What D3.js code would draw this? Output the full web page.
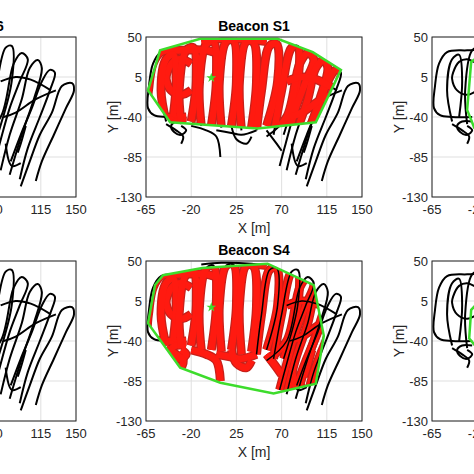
<!DOCTYPE html>
<html><head><meta charset="utf-8">
<script src="https://cdn.jsdelivr.net/npm/d3@7"></script>
<style>body{margin:0;background:#fff}svg{display:block}</style>
</head><body>
<svg id="chart" width="474" height="474"></svg>
<script>
// tick labels
var xTicks = [-65, -20, 25, 70, 115, 150];
var yTicks = [50, 5, -40, -85, -130];

// walked trajectories [x, y] in metres
var tracks = [
  [[-25,-40],[-45,-40],[-57,-38],[-63,-30],[-62,-5],[-58,20],[-50,33],[-30,35],[-5,35],[10,30]],
  [[-20,20],[-30,25],[-38,22],[-44,10],[-45,3],[-40,-10],[-30,-15],[-20,-10]],
  [[-25,-45],[-35,-45],[-40,-50],[-37,-57],[-30,-60],[-25,-55],[-30,-50]],
  [[-45,-45],[-50,-10],[-45,25],[-38,30],[-35,0],[-38,-40]],
  [[-30,-48],[-32,-10],[-25,35],[-18,38],[-15,0],[-20,-45]],
  [[-10,-50],[-12,-5],[-5,42],[2,45],[5,0],[0,-50]],
  [[10,-52],[8,0],[15,45],[22,46],[25,0],[20,-50]],
  [[30,-55],[28,0],[35,45],[42,44],[45,0],[40,-52]],
  [[45,-55],[50,-10],[58,40],[65,42],[66,0],[55,-50]],
  [[62,-60],[70,-10],[80,38],[86,40],[86,0],[72,-60]],
  [[55,-62],[75,-40],[88,20],[96,32],[102,25],[94,0],[84,-30],[74,-70],[68,-95]],
  [[75,-100],[84,-60],[96,-20],[104,15],[112,24],[116,15],[108,-20],[96,-60],[84,-105]],
  [[85,-90],[95,-60],[106,-30],[116,0],[124,13],[129,10],[124,-10],[114,-40],[102,-75],[94,-110]],
  [[95,-118],[104,-90],[114,-60],[126,-35],[136,-5],[146,-2],[148,-10],[140,-30],[128,-60],[116,-90],[110,-112]],
  [[78,-40],[90,-35],[110,-20],[130,-10]],
  [[75,0],[90,5],[105,2],[125,-10]],
  [[-45,-48],[-35,-55],[-28,-62],[-30,-70]],
  [[-20,-50],[-5,-55],[5,-62],[9,-85]],
  [[5,-55],[20,-58],[30,-60],[45,-55]],
  [[20,-50],[25,-65],[35,-70],[40,-62]],
  [[55,-55],[65,-70],[70,-78]],
  [[80,-70],[86,-95],[95,-92]],
  [[100,-50],[95,-70],[92,-80]],
  [[-10,46],[10,48],[40,47],[55,45]]
];

// coverage hulls and beacon positions
var hullS1 = [[-63,-10],[-51,35],[-11,48],[66,48],[101,33],[129,13],[104,-46],[46,-53],[-41,-46]];
var hullS4 = [[-63,-20],[-56,23],[-48,34],[-9,42],[56,47],[102,23],[112,-34],[104,-88],[62,-99],[9,-87],[-31,-70]];
var hullS3 = [[-26,22],[-10,35],[20,30],[25,-40],[0,-60],[-23,-52],[-30,-32]];
var hullS6 = [[-26,-5],[-10,15],[20,10],[20,-50],[-20,-48],[-28,-37]];

var panels = [
  {title: "Beacon S6", left: -140, top: 37, hull: null, star: null},
  {title: "Beacon S1", left: 146, top: 37, hull: hullS1, star: [0, 4]},
  {title: "", left: 432, top: 37, hull: hullS3, star: null},
  {title: "", left: -140, top: 261, hull: null, star: null},
  {title: "Beacon S4", left: 146, top: 261, hull: hullS4, star: [0, -2]},
  {title: "", left: 432, top: 261, hull: hullS6, star: null}
];

var W = 216, H = 160;
var svg = d3.select("#chart");
var x = d3.scaleLinear().domain([-65, 150]).range([0, W]);
var y = d3.scaleLinear().domain([-130, 50]).range([H, 0]);
var line = d3.line().x(d => x(d[0])).y(d => y(d[1])).curve(d3.curveCatmullRom);
var font = "Liberation Sans, Arial, sans-serif";

panels.forEach(function (p, i) {
  var g = svg.append("g").attr("transform", "translate(" + p.left + "," + p.top + ")");

  g.append("defs").append("clipPath").attr("id", "box" + i)
    .append("rect").attr("width", W).attr("height", H);

  // grid
  g.selectAll(".gx").data(xTicks).enter().append("line")
    .attr("x1", d => x(d)).attr("x2", d => x(d)).attr("y1", 0).attr("y2", H)
    .attr("stroke", "#dfdfdf").attr("stroke-width", 1);
  g.selectAll(".gy").data(yTicks).enter().append("line")
    .attr("y1", d => y(d)).attr("y2", d => y(d)).attr("x1", 0).attr("x2", W)
    .attr("stroke", "#dfdfdf").attr("stroke-width", 1);

  var plot = g.append("g").attr("clip-path", "url(#box" + i + ")");

  plot.selectAll(".trk").data(tracks).enter().append("path")
    .attr("d", line).attr("fill", "none").attr("stroke", "#000").attr("stroke-width", 2);

  if (p.hull && p.star) {
    plot.append("clipPath").attr("id", "hull" + i)
      .append("polygon").attr("points", p.hull.map(d => [x(d[0]), y(d[1])].join(",")).join(" "));
    var red = plot.append("g").attr("clip-path", "url(#hull" + i + ")");
    red.selectAll(".ro").data(tracks).enter().append("path")
      .attr("d", line).attr("fill", "none").attr("stroke", "#c8201a").attr("stroke-width", 9);
    red.selectAll(".ri").data(tracks).enter().append("path")
      .attr("d", line).attr("fill", "none").attr("stroke", "#ff1a10").attr("stroke-width", 6.5);
    if (i === 4) {
      // black tracks over the red on the right side of S4
      red.selectAll(".bk").data(tracks.slice(8, 16)).enter().append("path")
        .attr("d", line).attr("fill", "none").attr("stroke", "#000").attr("stroke-width", 1.5);
    }
  }
  if (p.hull) {
    plot.append("polygon")
      .attr("points", p.hull.map(d => [x(d[0]), y(d[1])].join(",")).join(" "))
      .attr("fill", "none").attr("stroke", "#3ddc2c").attr("stroke-width", 2.5);
  }
  if (p.star) {
    plot.append("path").attr("d", d3.symbol(d3.symbolStar, 30)())
      .attr("transform", "translate(" + x(p.star[0]) + "," + y(p.star[1]) + ")")
      .attr("fill", "#3ddc2c");
  }

  g.append("rect").attr("width", W).attr("height", H)
    .attr("fill", "none").attr("stroke", "#262626").attr("stroke-width", 1);

  g.selectAll(".xt").data(xTicks).enter().append("text")
    .attr("x", d => x(d)).attr("y", H + 17).attr("text-anchor", "middle")
    .attr("font-family", font).attr("font-size", 13)
    .attr("fill", "#262626").text(d => d);
  g.selectAll(".yt").data(yTicks).enter().append("text")
    .attr("x", -4).attr("y", d => y(d) + 5).attr("text-anchor", "end")
    .attr("font-family", font).attr("font-size", 13)
    .attr("fill", "#262626").text(d => d);

  g.append("text").attr("x", W / 2).attr("y", H + 36).attr("text-anchor", "middle")
    .attr("font-family", font).attr("font-size", 14)
    .attr("fill", "#262626").text("X [m]");
  g.append("text").attr("transform", "translate(-28," + H / 2 + ") rotate(-90)")
    .attr("text-anchor", "middle")
    .attr("font-family", font).attr("font-size", 14)
    .attr("fill", "#262626").text("Y [m]");
  if (p.title) {
    g.append("text").attr("x", W / 2).attr("y", -6).attr("text-anchor", "middle")
      .attr("font-family", font).attr("font-size", 14)
      .attr("font-weight", "bold").attr("fill", "#000").text(p.title);
  }
});
</script>
</body></html>
